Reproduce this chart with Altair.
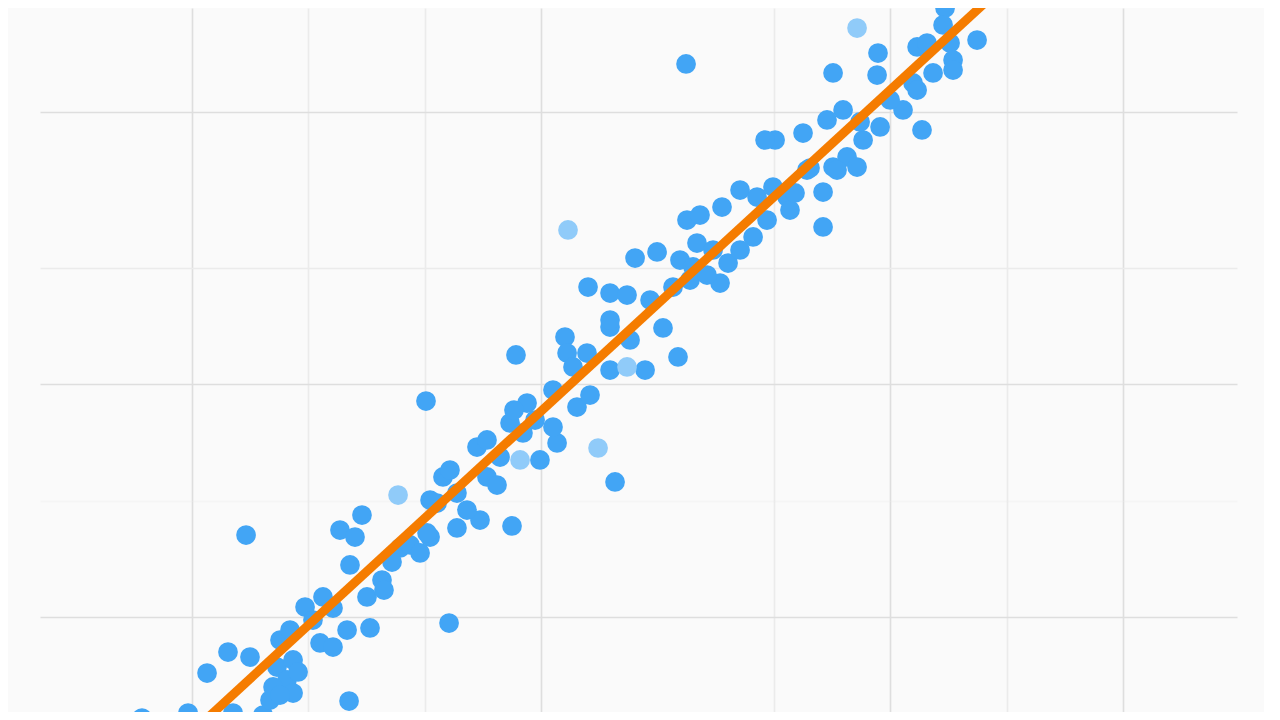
import altair as alt
import pandas as pd

# Scatter points (x, y) in chart units; light = faded point
xs = [-4.30, -0.34, 3.52, 6.10, 1.29, 3.09, 4.98, 13.49, 7.30, 8.68, 8.16, 6.96, 8.68, 6.70, 7.56, 9.11,
      7.56, 8.42, 9.71, 11.25, 12.11, 11.00, 12.11, 13.32, 15.29, 10.39, 22.08,
      4.64, 12.71, 14.00, 14.60, 13.57, 15.03, 16.32, 16.49, 17.87, 18.73, 19.59, 20.45, 21.05, 17.70,
      22.76, 24.74, 27.49, 23.62, 20.19, 20.45, 17.18,
      20.10, 21.56, 22.16, 24.48, 25.34, 26.46, 25.34, 26.20, 22.76, 27.32, 28.78, 28.43, 31.01, 29.89,
      28.18, 31.36, 31.01, 33.07, 34.19, 34.88, 36.34, 29.47, 27.66,
      27.83, 32.04, 32.22, 32.73, 33.93, 35.91, 37.63, 40.46, 41.75, 35.91, 38.92, 37.37,
      34.02, 35.91, 37.37, 35.91, 39.35,
      32.30, 38.06, 39.95, 42.52, 43.64, 45.53, 47.08, 43.38, 41.92, 43.04, 42.78, 46.05, 45.36, 44.24,
      41.32, 48.20, 49.40, 48.54, 49.91, 51.12, 54.21, 54.21, 52.83, 55.07, 42.44, 44.76, 47.08, 51.37,
      57.13, 64.69, 67.44, 55.07, 58.93, 58.85, 62.29, 63.14, 65.12, 65.38, 65.38, 63.66, 61.94, 62.29,
      61.08, 62.71, 59.11, 55.93, 54.55, 52.49, 50.09, 49.23, 56.27, 57.13, 55.41, 53.09, 51.80, 64.52,
      57.65, 59.97, 57.39]
ys = [-8.68, -8.25, -8.25, -8.42, -4.81, -3.01, -3.44, -7.22, -4.30, -3.69, -5.41, -6.01, -6.53, -7.13, -6.70, -4.72,
      -1.98, -1.12, 0.86, 1.72, 0.77, -2.23, -2.58, -1.12, -0.94, -0.26, -0.52,
      7.04, 7.47, 6.87, 8.76, 4.47, 1.72, 3.18, 2.32, 5.93, 6.19, 5.50, 6.87, 9.79, 10.48,
      7.65, 8.33, 7.82, 9.19, 7.22, 10.05, 4.72,
      18.55, 12.03, 12.63, 14.60, 15.21, 13.74, 12.03, 11.34, 10.65, 16.67, 18.38, 15.81, 19.50, 13.49,
      13.49, 14.95, 16.32, 18.04, 19.07, 14.52, 11.60, 16.92, 17.78,
      22.51, 24.05, 22.68, 21.48, 22.68, 24.91, 23.80, 24.83, 22.34, 21.22, 21.22, 21.48,
      28.35, 27.83, 27.66, 25.51, 27.23,
      33.25, 30.84, 31.36, 34.10, 34.53, 35.22, 36.68, 32.13, 30.67, 30.07, 28.95, 30.41, 28.69, 29.38,
      28.35, 32.65, 34.10, 36.08, 36.94, 36.08, 36.51, 33.51, 38.40, 38.66, 47.51, 31.53, 31.53, 34.96,
      50.60, 52.32, 49.57, 46.74, 48.45, 46.56, 48.97, 49.31, 49.31, 47.85, 46.99, 46.74, 45.88, 45.27,
      43.56, 41.84, 42.10, 43.56, 42.70, 41.58, 40.98, 40.98, 39.52, 38.66, 38.40, 38.57, 36.43, 50.86,
      40.98, 44.42, 42.53]
light_idx = [40, 62, 67, 82, 88, 116]

light = [1 if i in light_idx else 0 for i in range(len(xs))]

# Fitted line end points
line_x = [-5, 75]
line_y = [-14.5, 59.1]

x_grid = [0, 10, 20, 30, 50, 60, 70, 80]
y_grid = [0, 10, 20, 30, 43.4]

pts = pd.DataFrame({"x": xs, "y": ys, "light": light})
ln = pd.DataFrame({"x": line_x, "y": line_y})

xscale = alt.Scale(domain=[-13.06, 89.77], nice=False, zero=False)
yscale = alt.Scale(domain=[-8.16, 52.32], nice=False, zero=False)

xaxis = alt.Axis(values=x_grid, labels=False, ticks=False, domain=False, title="",
                 gridWidth=1.6,
                 gridColor={"condition": {"test": "datum.value == 0 || datum.value == 30 || datum.value == 60 || datum.value == 80",
                                          "value": "#dedede"}, "value": "#ebebeb"})
yaxis = alt.Axis(values=y_grid, labels=False, ticks=False, domain=False, title="",
                 gridWidth=1.6,
                 gridColor={"condition": {"test": "datum.value == 30 || datum.value == 10", "value": "#ebebeb"},
                            "value": "#dedede"},
                 gridOpacity={"condition": {"test": "datum.value == 10", "value": 0.35}, "value": 1})

points = alt.Chart(pts).mark_circle(size=390, clip=True).encode(
    x=alt.X("x:Q", scale=xscale, axis=xaxis),
    y=alt.Y("y:Q", scale=yscale, axis=yaxis),
    color=alt.Color("light:N", scale=alt.Scale(domain=[0, 1], range=["#42a5f5", "#90cbf9"]), legend=None),
    opacity=alt.value(1),
)

line = alt.Chart(ln).mark_line(color="#f57c00", strokeWidth=9, clip=True, strokeCap="butt").encode(
    x=alt.X("x:Q", scale=xscale),
    y=alt.Y("y:Q", scale=yscale),
)

chart = alt.layer(points, line).properties(
    width=1197, height=704,
    padding={"left": 32, "top": 0, "right": 27, "bottom": 0},
    autosize=alt.AutoSizeParams(type="none"),
    background="#fafafa",
).configure_view(stroke=None, fill="#fafafa")

chart.save("out.html", embed_options={"renderer": "svg", "actions": False})
